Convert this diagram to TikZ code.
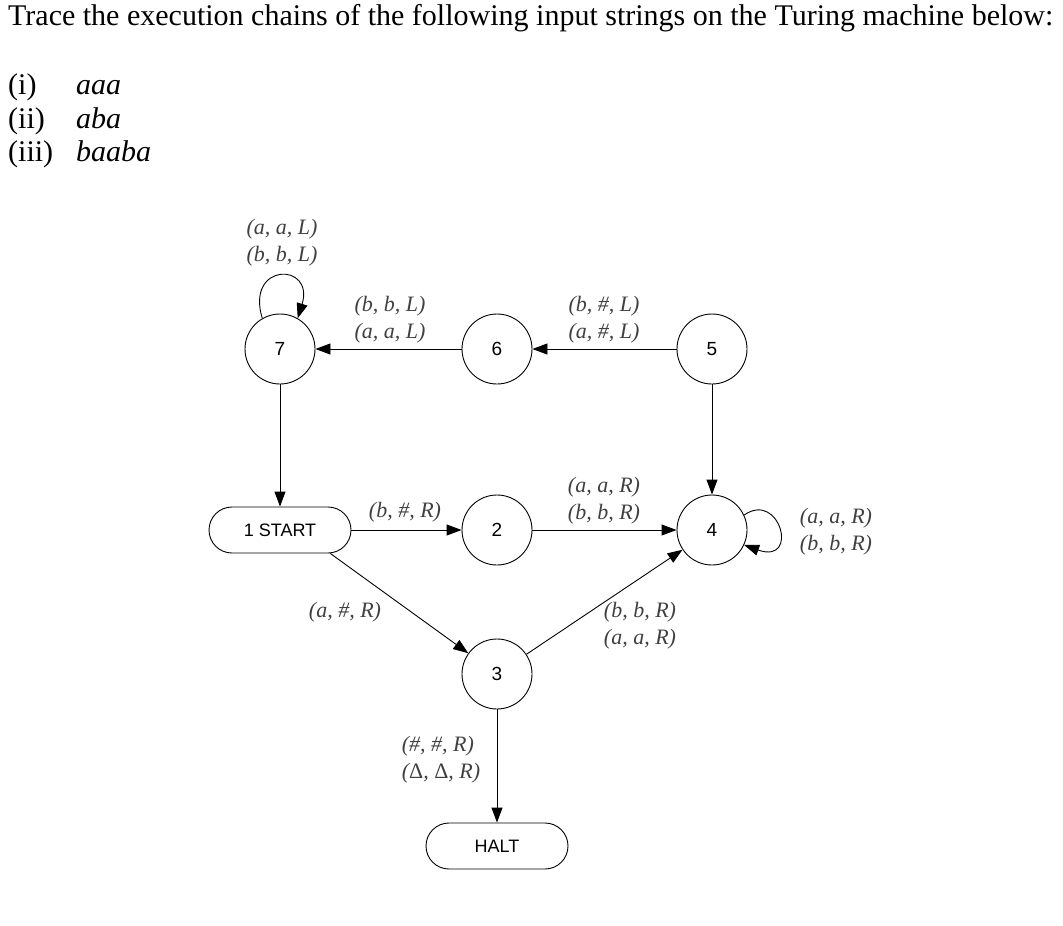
\documentclass[tikz,border=0pt]{standalone}
\usepackage{fontspec}
\setmainfont{Liberation Serif}
\newfontfamily\nodefont{Liberation Sans}
\usetikzlibrary{arrows.meta}
\tikzset{
 st/.style={circle,draw,line width=0.9pt,minimum size=70pt,inner sep=0pt,font=\nodefont\fontsize{19}{19}\selectfont},
 term/.style={rounded corners=23pt,draw,line width=0.9pt,minimum width=142pt,minimum height=46pt,font=\nodefont\fontsize{18}{18}\selectfont},
 edge/.style={line width=0.9pt,-{Triangle[length=15pt,width=11pt]}},
 lbl/.style={font=\itshape\fontsize{22}{27}\selectfont,text=black!75,align=left,inner sep=0pt},
 txt/.style={anchor=base west,inner sep=0pt,font=\fontsize{30}{30}\selectfont}
}
\begin{document}
\begin{tikzpicture}[x=1pt,y=-1pt]
\useasboundingbox (0,0) rectangle (1063,926);
\node[txt] (title) at (8,25) {Trace the execution chains of the following input strings on the Turing machine below:};
\node[txt] (i1) at (8,94) {(i)};
\node[txt] (i1s) at (76,94) {\itshape aaa};
\node[txt] (i2) at (8,128) {(ii)};
\node[txt] (i2s) at (76,128) {\itshape aba};
\node[txt] (i3) at (8,161) {(iii)};
\node[txt] (i3s) at (76,161) {\itshape baaba};

\node[st] (s7) at (280,349) {7};
\node[st] (s6) at (497,349) {6};
\node[st] (s5) at (712,349) {5};
\node[st] (s4) at (712,530) {4};
\node[st] (s2) at (497,530) {2};
\node[st] (s3) at (497,674) {3};
\node[term] (s1) at (280,530) {1 START};
\node[term] (halt) at (497,846) {HALT};

\draw[edge] (s7.120) .. controls (245,262) and (315,262) .. (s7.60);
\draw[edge] (s4.25) .. controls (780,490) and (800,565) .. (s4.-25);
\draw[edge] (s6) -- (s7);
\draw[edge] (s5) -- (s6);
\draw[edge] (s5) -- (s4);
\draw[edge] (s7) -- (s1);
\draw[edge] (s1) -- (s2);
\draw[edge] (s2) -- (s4);
\draw[edge] (s1.-25) -- (s3);
\draw[edge] (s3) -- (s4);
\draw[edge] (s3) -- (halt);

\node[lbl] (l7) at (282,243) {(a, a, L)\\(b, b, L)};
\node[lbl] (l67) at (390,320) {(b, b, L)\\(a, a, L)};
\node[lbl] (l56) at (604,320) {(b, \#, L)\\(a, \#, L)};
\node[lbl] (l24) at (604,501) {(a, a, R)\\(b, b, R)};
\node[lbl] (l12) at (405,512) {(b, \#, R)};
\node[lbl] (l4) at (836,532) {(a, a, R)\\(b, b, R)};
\node[lbl] (l13) at (345,612) {(a, \#, R)};
\node[lbl] (l34) at (640,626) {(b, b, R)\\(a, a, R)};
\node[lbl] (l3h) at (441,760) {(\#, \#, R)\\({\upshape Δ}, {\upshape Δ}, R)};
\end{tikzpicture}
\end{document}
